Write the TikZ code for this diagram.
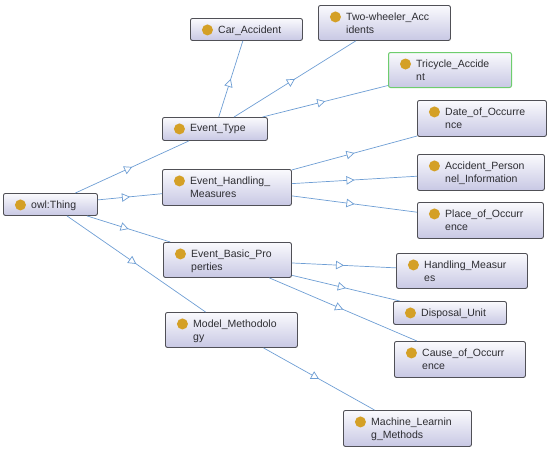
\documentclass[tikz,border=0pt]{standalone}
\usepackage{fontspec}
\setmainfont{Liberation Sans}
\usetikzlibrary{arrows.meta,decorations.markings}
\definecolor{edgeblue}{RGB}{110,158,212}
\definecolor{dotgold}{RGB}{212,160,38}
\definecolor{boxtop}{RGB}{250,250,253}
\definecolor{boxbot}{RGB}{200,200,228}
\definecolor{boxline}{RGB}{80,80,86}
\definecolor{txtgray}{RGB}{45,45,50}
\definecolor{selgreen}{RGB}{110,205,110}
\tikzset{
  cls/.style={rectangle, rounded corners=2pt, draw=boxline, line width=0.9pt,
    top color=boxtop, bottom color=boxbot, inner sep=0pt, anchor=north west,
    path picture={\fill[dotgold] ([xshift=17pt,yshift=-11.5pt]path picture bounding box.north west) circle (5.5pt);}},
  lbl/.style={inner sep=0pt, anchor=north west, align=left, text=txtgray,
    font=\fontsize{10.5}{13.5}\selectfont},
  subcls/.style={draw=edgeblue, line width=0.7pt, postaction={decorate},
    decoration={markings, mark=at position 0.5 with {\arrow{Triangle[length=8pt,width=8.5pt,fill=white]}}}}
}
\begin{document}
\begin{tikzpicture}[x=1pt,y=-1pt]
\useasboundingbox (0,0) rectangle (550,450);
% classes
\node[cls, minimum width=94pt, minimum height=22pt] (thing) at (3,193) {};
\node[lbl] (thing-t) at ([xshift=28pt,yshift=-7.5pt]thing.north west) {owl:Thing};
\node[cls, minimum width=105pt, minimum height=23pt] (evtype) at (162,117) {};
\node[lbl] (evtype-t) at ([xshift=28pt,yshift=-7.5pt]evtype.north west) {Event\_Type};
\node[cls, minimum width=129pt, minimum height=36pt] (evhand) at (162,169) {};
\node[lbl] (evhand-t) at ([xshift=28pt,yshift=-7.5pt]evhand.north west) {Event\_Handling\_\\Measures};
\node[cls, minimum width=128pt, minimum height=35pt] (evbasic) at (163,242) {};
\node[lbl] (evbasic-t) at ([xshift=28pt,yshift=-7.5pt]evbasic.north west) {Event\_Basic\_Pro\\perties};
\node[cls, minimum width=132pt, minimum height=35pt] (model) at (165,312) {};
\node[lbl] (model-t) at ([xshift=28pt,yshift=-7.5pt]model.north west) {Model\_Methodolo\\gy};
\node[cls, minimum width=112pt, minimum height=22pt] (car) at (190,18) {};
\node[lbl] (car-t) at ([xshift=28pt,yshift=-7.5pt]car.north west) {Car\_Accident};
\node[cls, minimum width=132pt, minimum height=35pt] (twowh) at (318,5) {};
\node[lbl] (twowh-t) at ([xshift=28pt,yshift=-7.5pt]twowh.north west) {Two-wheeler\_Acc\\idents};
\node[cls, draw=selgreen, line width=1pt, minimum width=123pt, minimum height=35pt] (tricyc) at (388,52) {};
\node[lbl] (tricyc-t) at ([xshift=28pt,yshift=-7.5pt]tricyc.north west) {Tricycle\_Accide\\nt};
\node[cls, minimum width=129pt, minimum height=36pt] (date) at (417,100) {};
\node[lbl] (date-t) at ([xshift=28pt,yshift=-7.5pt]date.north west) {Date\_of\_Occurre\\nce};
\node[cls, minimum width=127pt, minimum height=36pt] (person) at (417,154) {};
\node[lbl] (person-t) at ([xshift=28pt,yshift=-7.5pt]person.north west) {Accident\_Person\\nel\_Information};
\node[cls, minimum width=126pt, minimum height=36pt] (place) at (417,202) {};
\node[lbl] (place-t) at ([xshift=28pt,yshift=-7.5pt]place.north west) {Place\_of\_Occurr\\ence};
\node[cls, minimum width=131pt, minimum height=35pt] (handl) at (396,253) {};
\node[lbl] (handl-t) at ([xshift=28pt,yshift=-7.5pt]handl.north west) {Handling\_Measur\\es};
\node[cls, minimum width=113pt, minimum height=23pt] (disp) at (393,301) {};
\node[lbl] (disp-t) at ([xshift=28pt,yshift=-7.5pt]disp.north west) {Disposal\_Unit};
\node[cls, minimum width=131pt, minimum height=36pt] (cause) at (394,341) {};
\node[lbl] (cause-t) at ([xshift=28pt,yshift=-7.5pt]cause.north west) {Cause\_of\_Occurr\\ence};
\node[cls, minimum width=128pt, minimum height=36pt] (ml) at (343,410) {};
\node[lbl] (ml-t) at ([xshift=28pt,yshift=-7.5pt]ml.north west) {Machine\_Learnin\\g\_Methods};
% subclass links
\draw[subcls] (thing) -- (evtype);
\draw[subcls] (thing) -- (evhand);
\draw[subcls] (thing) -- (evbasic);
\draw[subcls] (thing) -- (model);
\draw[subcls] (evtype) -- (car);
\draw[subcls] (evtype) -- (twowh);
\draw[subcls] (evtype) -- (tricyc);
\draw[subcls] (evhand) -- (date);
\draw[subcls] (evhand) -- (person);
\draw[subcls] (evhand) -- (place);
\draw[subcls] (evbasic) -- (handl);
\draw[subcls] (evbasic) -- (disp);
\draw[subcls] (evbasic) -- (cause);
\draw[subcls] (model) -- (ml);
\end{tikzpicture}
\end{document}
